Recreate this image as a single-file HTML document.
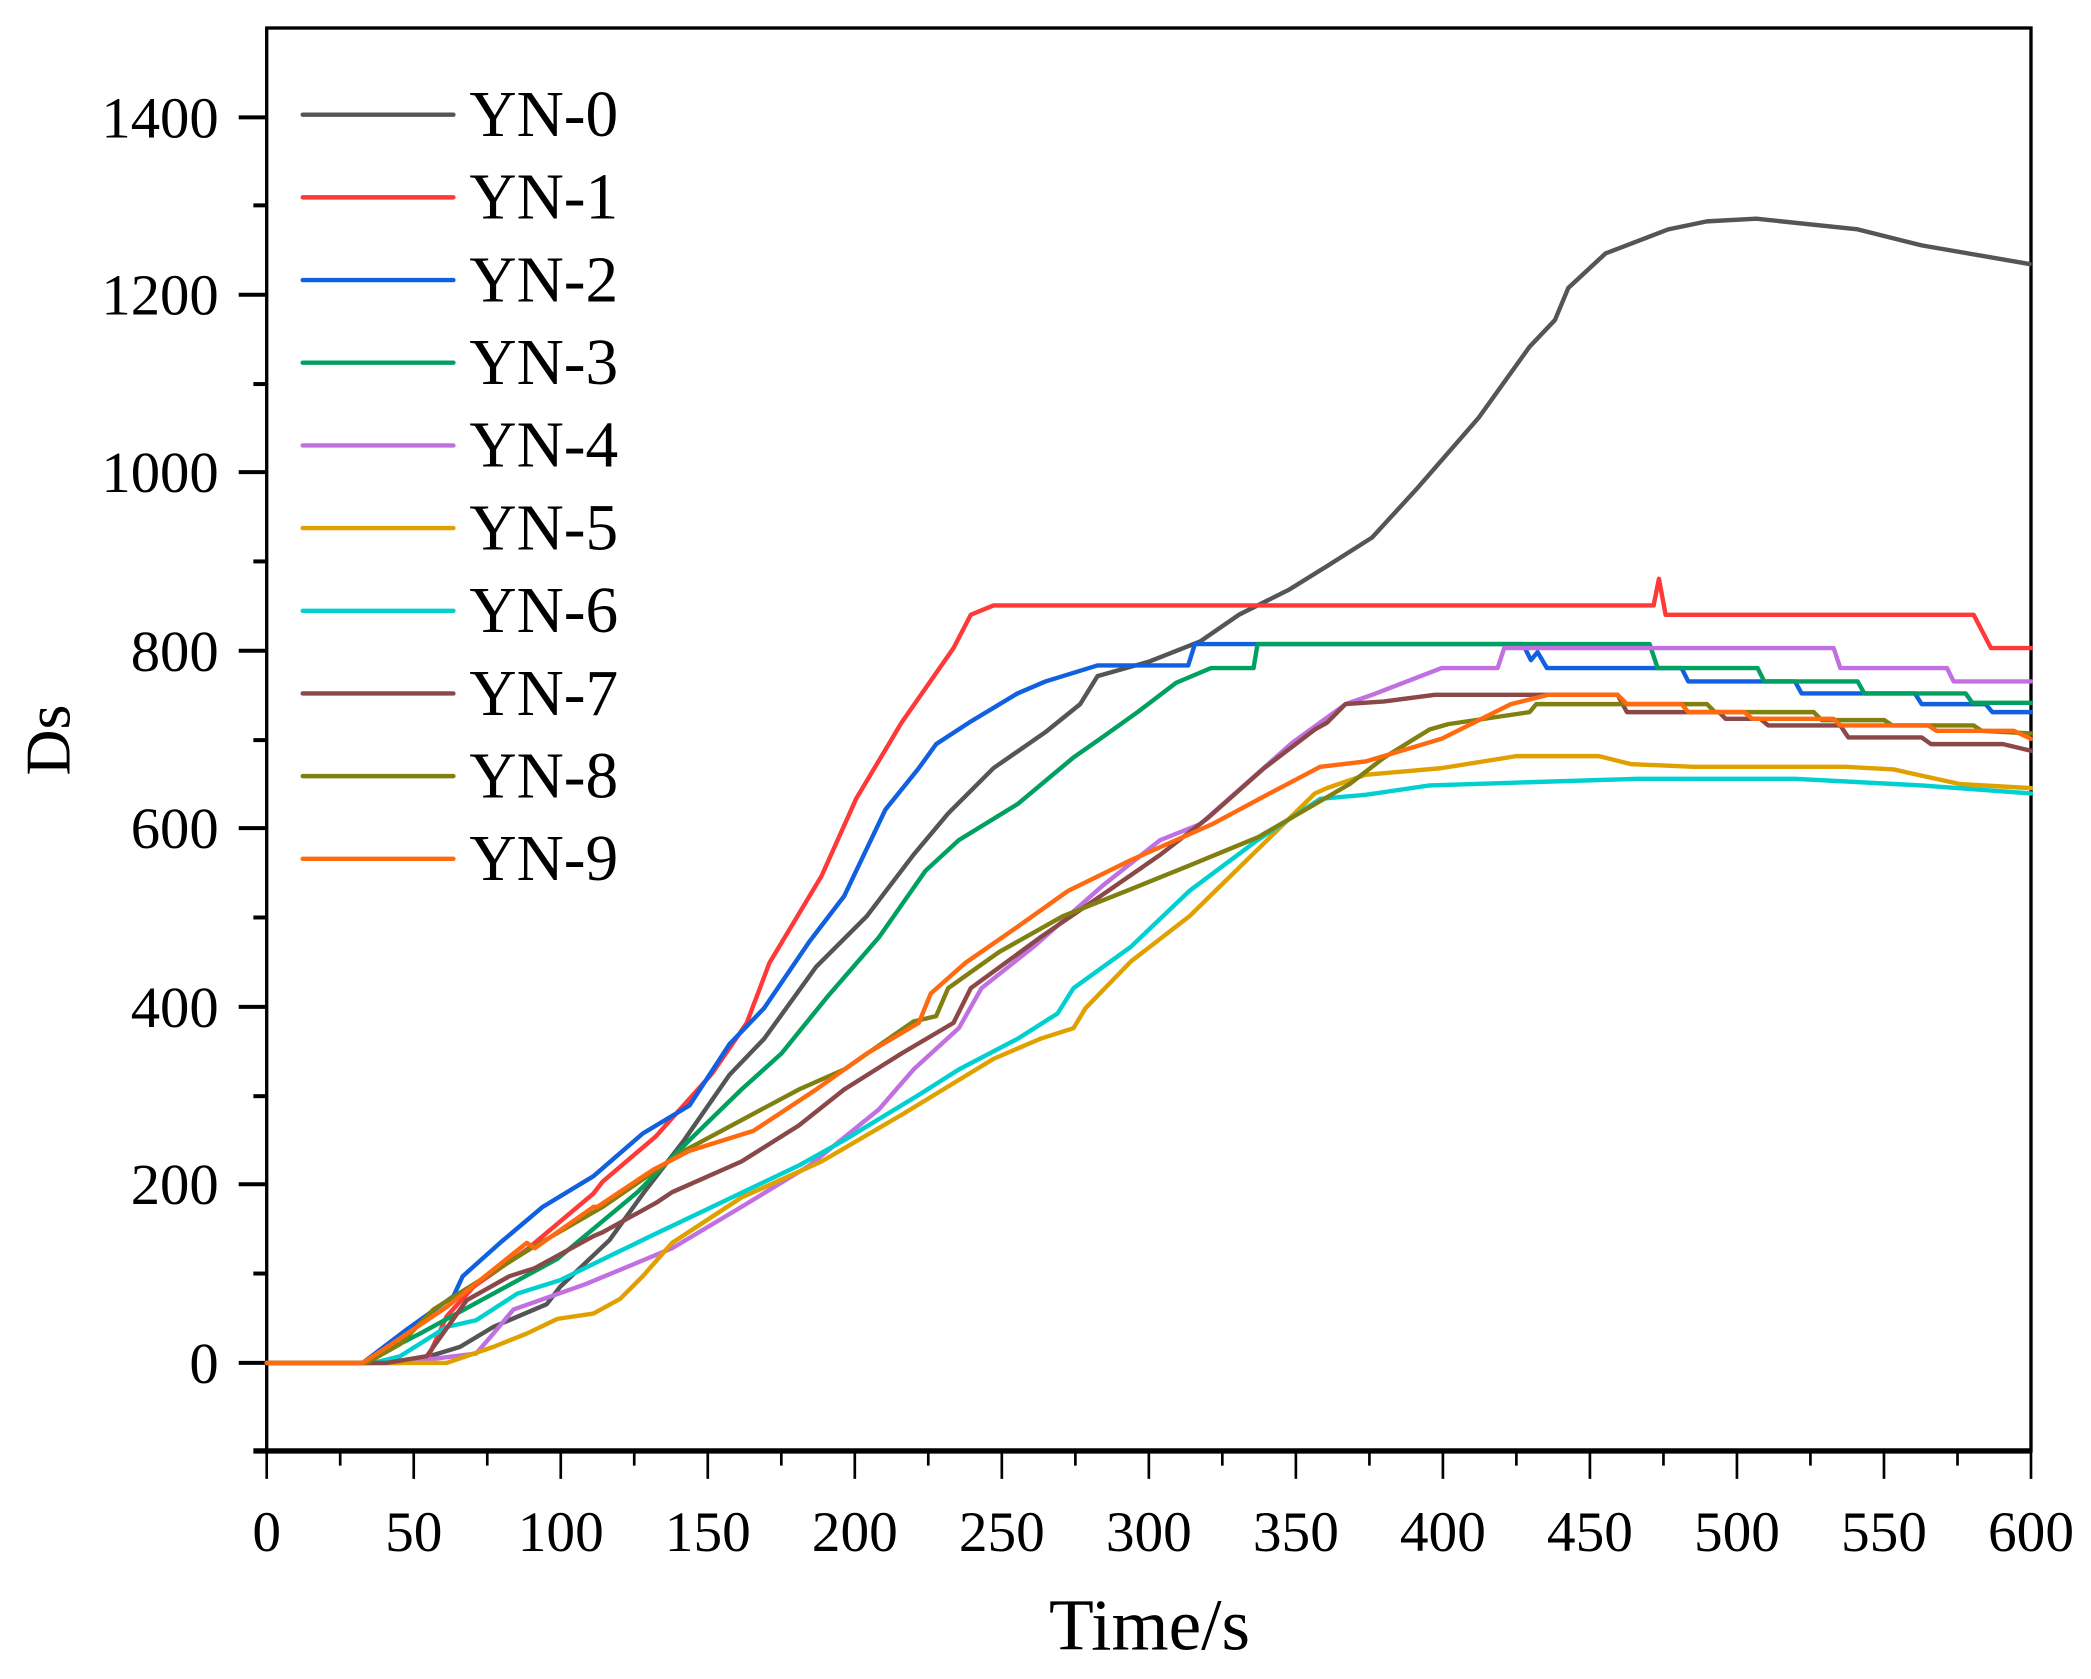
<!DOCTYPE html>
<html><head><meta charset="utf-8"><style>html,body{margin:0;padding:0;background:#fff}svg{display:block}</style></head>
<body>
<svg width="2091" height="1679" viewBox="0 0 2091 1679" xmlns="http://www.w3.org/2000/svg">
<g transform="scale(1.33355)" font-family="Liberation Serif, serif" fill="none">
<rect x="200" y="21" width="1323" height="1067" stroke="#000" stroke-width="2.5"/>
<line x1="190" y1="1088" x2="1523" y2="1088" stroke="#000" stroke-width="4"/>
<g stroke="#000" stroke-width="3">
<line x1="179" y1="1022" x2="200" y2="1022"/><line x1="179" y1="888" x2="200" y2="888"/><line x1="179" y1="755" x2="200" y2="755"/><line x1="179" y1="621" x2="200" y2="621"/><line x1="179" y1="488" x2="200" y2="488"/><line x1="179" y1="354" x2="200" y2="354"/><line x1="179" y1="221" x2="200" y2="221"/><line x1="179" y1="88" x2="200" y2="88"/>
<line x1="190" y1="955" x2="200" y2="955"/><line x1="190" y1="822" x2="200" y2="822"/><line x1="190" y1="688" x2="200" y2="688"/><line x1="190" y1="555" x2="200" y2="555"/><line x1="190" y1="421" x2="200" y2="421"/><line x1="190" y1="288" x2="200" y2="288"/><line x1="190" y1="154" x2="200" y2="154"/>
</g>
<g stroke="#000" stroke-width="2">
<path d="M200 1088v21M310.25 1088v21M420.5 1088v21M530.75 1088v21M641 1088v21M751.25 1088v21M861.5 1088v21M971.75 1088v21M1082 1088v21M1192.25 1088v21M1302.5 1088v21M1412.75 1088v21M1523 1088v21"/>
<path d="M255.1 1088v11M365.4 1088v11M475.6 1088v11M585.9 1088v11M696.1 1088v11M806.4 1088v11M916.6 1088v11M1026.9 1088v11M1137.1 1088v11M1247.4 1088v11M1357.6 1088v11M1467.9 1088v11"/>
</g>
<g fill="#000" font-size="44" text-anchor="end">
<text x="164" y="1037">0</text><text x="164" y="903">200</text><text x="164" y="770">400</text><text x="164" y="636">600</text><text x="164" y="503">800</text><text x="164" y="369">1000</text><text x="164" y="236">1200</text><text x="164" y="103">1400</text>
</g>
<g fill="#000" font-size="43" text-anchor="middle">
<text x="200" y="1163">0</text><text x="310.25" y="1163">50</text><text x="420.5" y="1163">100</text><text x="530.75" y="1163">150</text><text x="641" y="1163">200</text><text x="751.25" y="1163">250</text><text x="861.5" y="1163">300</text><text x="971.75" y="1163">350</text><text x="1082" y="1163">400</text><text x="1192.25" y="1163">450</text><text x="1302.5" y="1163">500</text><text x="1412.75" y="1163">550</text><text x="1523" y="1163">600</text>
<text x="862" y="1237" font-size="55">Time/s</text>
<text transform="translate(52,555) rotate(-90)" font-size="48">Ds</text>
</g>
<g stroke-width="3.3" stroke-linejoin="round" stroke-linecap="round">
<polyline stroke="#555555" points="200,1022 300,1022 322,1017 345,1010 370,995 410,978 420,965 457,930 483,894 513,855 547,806 573,779 612,725 650,687 685,641 711,610 745,576 784,549 810,528 823,507 862,496 900,481 929,461 967,442 996,424 1029,403 1062,367 1109,313 1147,260 1166,240 1176,216 1204,190 1251,172 1280,166 1317,164 1393,172 1441,184 1522,198"/>
<polyline stroke="#ff3838" points="200,1022 272,1022 310,1021 320,1020 335,987 355,965 395,937 445,895 452,886 492,852 499,844 534,805 560,767 577,722 616,657 642,599 676,542 715,486 728,461 745,454 1240,454 1244,434 1249,461 1480,461 1493,486 1523,486"/>
<polyline stroke="#1060e0" points="200,1022 272,1022 305,997 340,972 347,957 375,932 407,905 445,882 482,850 517,829 547,783 573,756 607,706 633,672 664,607 689,576 702,558 728,541 763,520 784,511 823,499 891,499 896,483 1142,483 1148,495 1153,489 1160,501 1261,501 1266,511 1346,511 1351,520 1436,520 1441,528 1489,528 1494,534 1523,534"/>
<polyline stroke="#00a060" points="200,1022 272,1022 315,1000 370,970 418,944 478,894 517,855 556,817 586,790 620,748 659,703 694,653 719,630 763,603 805,568 825,554 853,534 882,512 908,501 940,501 943,483 1237,483 1243,501 1318,501 1323,511 1393,511 1398,520 1474,520 1479,527 1523,527"/>
<polyline stroke="#c070e0" points="200,1022 300,1022 357,1015 370,1000 385,982 439,963 504,936 556,905 607,874 659,832 685,802 719,771 736,741 775,710 827,664 870,630 900,618 926,595 969,557 1009,528 1029,521 1081,501 1123,501 1128,486 1375,486 1380,501 1460,501 1465,511 1523,511"/>
<polyline stroke="#e0a000" points="200,1022 335,1022 370,1010 395,1000 418,989 445,985 465,974 482,957 504,932 556,898 616,871 676,836 745,794 780,779 805,771 814,756 848,721 892,687 939,641 986,595 995,591 1024,581 1081,576 1137,567 1199,567 1223,573 1270,575 1384,575 1420,577 1470,588 1523,591"/>
<polyline stroke="#00d0d0" points="200,1022 280,1022 300,1017 335,995 357,990 388,970 420,960 461,940 492,925 534,905 599,874 633,855 689,821 719,802 763,779 793,760 805,741 848,710 892,668 943,630 990,599 1024,596 1072,589 1133,587 1228,584 1346,584 1441,589 1523,595"/>
<polyline stroke="#8b4848" points="200,1022 290,1022 320,1017 350,975 382,957 401,951 445,927 452,924 492,902 504,894 556,871 599,844 633,817 676,790 715,767 728,741 780,703 831,668 870,641 905,614 948,576 986,547 995,542 1009,528 1038,526 1076,521 1213,521 1220,534 1289,534 1294,539 1320,539 1326,544 1380,544 1386,553 1441,553 1448,558 1502,558 1523,563"/>
<polyline stroke="#808010" points="200,1022 275,1022 300,1008 325,982 360,960 400,935 452,905 513,863 556,840 599,817 633,802 685,766 702,762 711,741 749,714 797,687 840,670 892,649 943,628 1012,588 1038,568 1072,547 1086,543 1147,534 1152,528 1280,528 1286,534 1360,534 1366,540 1413,540 1419,544 1480,544 1486,548 1523,550"/>
<polyline stroke="#ff6a10" points="200,1022 272,1022 295,1007 335,980 395,932 401,936 445,905 448,905 490,877 517,863 565,848 612,817 650,790 689,767 698,745 724,722 763,695 801,668 848,645 909,618 952,595 990,575 1024,571 1081,554 1133,528 1161,521 1213,521 1220,528 1261,528 1266,534 1308,534 1314,539 1375,539 1380,544 1446,544 1452,548 1510,548 1523,554"/>
</g>
<g stroke-width="3.3" stroke-linecap="round">
<line x1="227" y1="86" x2="340" y2="86" stroke="#555555"/>
<line x1="227" y1="148" x2="340" y2="148" stroke="#ff3838"/>
<line x1="227" y1="210" x2="340" y2="210" stroke="#1060e0"/>
<line x1="227" y1="272" x2="340" y2="272" stroke="#00a060"/>
<line x1="227" y1="334" x2="340" y2="334" stroke="#c070e0"/>
<line x1="227" y1="396" x2="340" y2="396" stroke="#e0a000"/>
<line x1="227" y1="458" x2="340" y2="458" stroke="#00d0d0"/>
<line x1="227" y1="520" x2="340" y2="520" stroke="#8b4848"/>
<line x1="227" y1="582" x2="340" y2="582" stroke="#808010"/>
<line x1="227" y1="644" x2="340" y2="644" stroke="#ff6a10"/>
</g>
<g fill="#000" font-size="49">
<text x="352" y="102">YN-0</text><text x="352" y="164">YN-1</text><text x="352" y="226">YN-2</text><text x="352" y="288">YN-3</text><text x="352" y="350">YN-4</text><text x="352" y="412">YN-5</text><text x="352" y="474">YN-6</text><text x="352" y="536">YN-7</text><text x="352" y="598">YN-8</text><text x="352" y="660">YN-9</text>
</g>
</g>
</svg>
</body></html>
